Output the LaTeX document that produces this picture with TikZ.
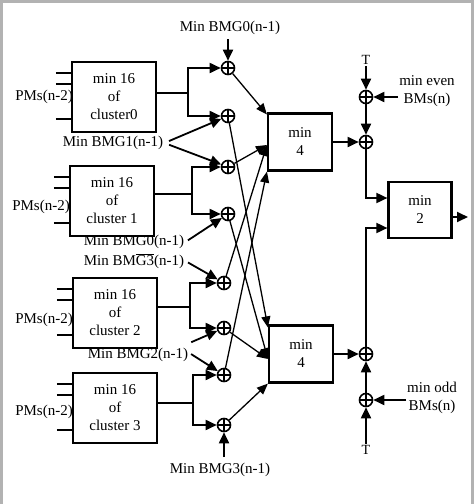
\documentclass[tikz,border=0pt]{standalone}
\usepackage{fontspec}
\setmainfont{Liberation Serif}
\usetikzlibrary{arrows.meta, positioning, calc}

\begin{document}
\begin{tikzpicture}[
    x=1pt, y=-1pt,
    font=\fontsize{15}{18}\selectfont,
    clbox/.style={
      rectangle, draw, line width=2.2pt,
      minimum width=84pt, minimum height=70pt,
      align=center, inner sep=0pt
    },
    minbox/.style={
      rectangle, draw, line width=2.2pt,
      minimum width=64pt, minimum height=57pt,
      align=center, inner sep=0pt
    },
    adder/.style={
      circle, draw, line width=1.6pt, minimum size=13pt, inner sep=0pt,
      path picture={\draw[line width=1.4pt]
        (path picture bounding box.north) -- (path picture bounding box.south)
        (path picture bounding box.west) -- (path picture bounding box.east);}
    },
    arr/.style={-{Triangle[length=11pt,width=10pt]}, line width=1.8pt},
    xarr/.style={-{Triangle[length=11pt,width=9pt]}, line width=1.3pt},
    wire/.style={line width=1.8pt},
    lbl/.style={inner sep=1pt, align=center}
  ]
  \useasboundingbox (0,0) rectangle (474,504);
  \draw[gray!60, line width=3pt] (1.5,504) -- (1.5,1.5) -- (472.5,1.5) -- (472.5,504);

  % Cluster boxes
  \node[clbox] (c0) at (114,97)  {min 16\\of\\cluster0};
  \node[clbox] (c1) at (112,201) {min 16\\of\\cluster 1};
  \node[clbox] (c2) at (115,313) {min 16\\of\\cluster 2};
  \node[clbox] (c3) at (115,408) {min 16\\of\\cluster 3};

  \foreach \c in {c0,c1,c2,c3}
    \foreach \dy in {-24,-13,22}
      \draw[wire] ($(\c.west)+(-15,\dy)$) -- ++(15,0);

  \node[lbl, anchor=east] (pm0) at (74,97)  {PMs(n-2)};
  \node[lbl, anchor=east] (pm1) at (71,207) {PMs(n-2)};
  \node[lbl, anchor=east] (pm2) at (74,320) {PMs(n-2)};
  \node[lbl, anchor=east] (pm3) at (74,412) {PMs(n-2)};

  % Adders
  \node[adder] (a0) at (228,68)  {};
  \node[adder] (a1) at (228,116) {};
  \node[adder] (a2) at (228,167) {};
  \node[adder] (a3) at (228,214) {};
  \node[adder] (a4) at (224,283) {};
  \node[adder] (a5) at (224,328) {};
  \node[adder] (a6) at (224,375) {};
  \node[adder] (a7) at (224,425) {};

  % Box outputs split to adders
  \coordinate (s0) at (188,93);
  \coordinate (s1) at (192,194);
  \coordinate (s2) at (190,307);
  \coordinate (s3) at (193,403);
  \draw[wire] (c0.east |- s0) -- (s0);
  \draw[wire] (c1.east |- s1) -- (s1);
  \draw[wire] (c2.east |- s2) -- (s2);
  \draw[wire] (c3.east |- s3) -- (s3);
  \draw[arr] (s0) |- (a0);
  \draw[arr] (s0) |- (a1);
  \draw[arr] (s1) |- (a2);
  \draw[arr] (s1) |- (a3);
  \draw[arr] (s2) |- (a4);
  \draw[arr] (s2) |- (a5);
  \draw[arr] (s3) |- (a6);
  \draw[arr] (s3) |- (a7);

  % Branch metric labels
  \node[lbl] (g0)  at (230,28)  {Min BMG0(n-1)};
  \node[lbl] (g1)  at (113,143) {Min BMG1(n-1)};
  \node[lbl] (g0b) at (134,242) {Min BMG0(n-1)};
  \node[lbl] (g3)  at (134,261) {Min BM$\overline{\mbox{G3}}$(n-1)};
  \node[lbl] (g2)  at (138,355) {Min BMG2(n-1)};
  \node[lbl] (g3b) at (220,470) {Min BMG3(n-1)};

  \draw[arr, shorten <=3pt] (g0.south -| a0) -- (a0);
  \draw[arr, shorten <=5pt] (g1.east) -- (a1);
  \draw[arr, shorten <=5pt] (g1.east) -- (a2);
  \draw[arr, shorten <=3pt] (g0b.east) -- (a3);
  \draw[arr, shorten <=3pt] (g3.east) -- (a4);
  \draw[arr, shorten <=2pt] ([yshift=12pt]g2.east) -- (a5);
  \draw[arr, shorten <=2pt] ([yshift=2pt]g2.east) -- (a6);
  \draw[arr, shorten <=5pt] (g3b.north -| a7) -- (a7);

  % min 4 stages
  \node[minbox] (u4) at (300,142) {min\\4};
  \node[minbox] (l4) at (301,354) {min\\4};

  \draw[xarr] (a0) -- ([yshift=-2pt]u4.north west);
  \draw[xarr] (a2) -- ([yshift=-3pt]u4.west);
  \draw[xarr] (a4) -- ([yshift=-3pt]u4.west);
  \draw[xarr] (a6) -- (u4.south west);
  \draw[xarr] (a1) -- ([yshift=-3pt]l4.north west);
  \draw[xarr] (a3) -- ([yshift=-5pt]l4.west);
  \draw[xarr] (a5) -- ([yshift=-5pt]l4.west);
  \draw[xarr] (a7) -- (l4.south west);

  % Even / odd branch sums
  \node[adder] (e1) at (366,97)  {};
  \node[adder] (e2) at (366,142) {};
  \node[adder] (o2) at (366,354) {};
  \node[adder] (o1) at (366,400) {};

  \node[lbl, font=\fontsize{14}{16}\selectfont] (t1) at (366,60)  {T};
  \node[lbl, font=\fontsize{14}{16}\selectfont] (t2) at (366,450) {T};
  \node[lbl] (ev) at (427,91)  {min even\\BMs(n)};
  \node[lbl] (od) at (432,398) {min odd\\BMs(n)};

  \draw[arr] (t1) -- (e1);
  \draw[arr] (ev.west |- e1) -- (e1);
  \draw[arr] (e1) -- (e2);
  \draw[arr] (u4) -- (e2);
  \draw[arr] (t2) -- (o1);
  \draw[arr] (od.west |- o1) -- (o1);
  \draw[arr] (o1) -- (o2);
  \draw[arr] (l4) -- (o2);

  % Final min 2
  \node[minbox, minimum width=63pt, minimum height=56pt] (m2) at (420,210) {min\\2};
  \coordinate (out) at (468,217);
  \draw[arr] (e2) |- ([yshift=12pt]m2.west);
  \draw[arr] (o2) |- ([yshift=-18pt]m2.west);
  \draw[arr] (m2.east |- out) -- (out);

\end{tikzpicture}
\end{document}
